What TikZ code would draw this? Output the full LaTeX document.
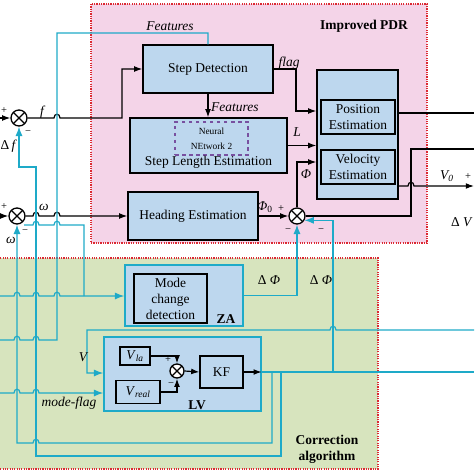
\documentclass[tikz,border=0pt]{standalone}
\usepackage{fontspec}
\setmainfont{Liberation Serif}
\usetikzlibrary{arrows.meta}

\definecolor{pdrpink}{RGB}{244,212,232}
\definecolor{corrgreen}{RGB}{215,228,190}
\definecolor{boxblue}{RGB}{189,215,238}
\definecolor{linecyan}{RGB}{30,170,200}
\definecolor{borderred}{RGB}{220,40,50}
\definecolor{nnpurple}{RGB}{120,80,160}

% small hop of a horizontal line over a vertical one
\newcommand{\hop}[2]{-- (#1-3,#2) .. controls (#1-3,#2-5) and (#1+3,#2-5) .. (#1+3,#2)}

\begin{document}
\begin{tikzpicture}[x=0.03cm, y=-0.03cm,
  font=\fontsize{11.5}{13.6}\selectfont,
  box/.style={draw, line width=1.1pt, fill=boxblue, inner sep=0pt, align=center},
  cybox/.style={draw=linecyan, line width=1.2pt, fill=boxblue, inner sep=0pt},
  nnbox/.style={draw=nnpurple, dashed, line width=1pt, inner sep=0pt, align=center,
    minimum width=2.19cm, minimum height=0.99cm, font=\fontsize{8}{12.5}\selectfont},
  sumnode/.style={circle, draw, line width=1.1pt, fill=white, minimum size=0.48cm, inner sep=0pt,
    path picture={\draw[line width=1.1pt] (path picture bounding box.north west) -- (path picture bounding box.south east)
      (path picture bounding box.north east) -- (path picture bounding box.south west);}},
  blk/.style={line width=1pt},
  blkarrow/.style={blk, -{Latex[length=7pt,width=5pt]}},
  cyl/.style={color=linecyan, line width=1pt},
  cyarrow/.style={cyl, -{Latex[length=8pt,width=6pt]}},
  cyback/.style={cyl, {Latex[length=8pt,width=6pt]}-},
  lbl/.style={inner sep=0pt, font=\fontsize{11.5}{13.6}\selectfont\itshape},
  upr/.style={inner sep=0pt},
  sgn/.style={inner sep=0pt, font=\fontsize{9}{10}\selectfont},
  bold/.style={inner sep=0pt, align=center, font=\fontsize{11.5}{13.6}\selectfont\bfseries}]

  \useasboundingbox (0,0) rectangle (474,474);

  % Background regions
  \fill[corrgreen] (-2,258) rectangle (378,469);
  \draw[borderred, densely dotted, line width=1pt] (-2,258) rectangle (378,469);
  \fill[pdrpink] (91,4) rectangle (427,243);
  \draw[borderred, densely dotted, line width=1pt] (91,4) rectangle (427,243);

  % Improved PDR blocks
  \node[box, minimum width=3.9cm, minimum height=1.44cm] (sd) at (208,69) {Step Detection};
  \node[box, minimum width=4.71cm, minimum height=1.65cm] (sl) at (208.5,145.5) {};
  \node[nnbox] (nn) at (211.5,138.5) {Neural\\NEtwork 2};
  \node[upr] (sltxt) at (208.5,162) {Step Length Estimation};
  \node[box, minimum width=3.9cm, minimum height=1.44cm] (he) at (193,216) {Heading Estimation};
  \node[box, minimum width=2.43cm, minimum height=3.87cm] (big) at (357.5,134.5) {};
  \node[box, minimum width=2.22cm, minimum height=1.02cm] (pos) at (358,117) {Position\\Estimation};
  \node[box, minimum width=2.22cm, minimum height=1.02cm] (vel) at (358,167) {Velocity\\Estimation};

  % Correction blocks
  \node[cybox, minimum width=3.54cm, minimum height=1.83cm] (za) at (184,295.5) {};
  \node[box, minimum width=2.19cm, minimum height=1.47cm] (mcd) at (170.5,298.5) {Mode\\change\\detection};
  \node[cybox, minimum width=4.71cm, minimum height=2.22cm] (lv) at (182.5,374) {};
  \node[box, minimum width=0.9cm, minimum height=0.54cm] (vla) at (135,356) {\textit{V}\textsubscript{\textit{la}}};
  \node[box, minimum width=1.32cm, minimum height=0.69cm] (vreal) at (138,392) {\textit{V}\textsubscript{\textit{real}}};
  \node[box, minimum width=1.29cm, minimum height=0.96cm] (kf) at (221.5,372) {KF};

  % Summing points
  \node[sumnode] (fsum) at (19,118) {};
  \node[sumnode] (wsum) at (17,216) {};
  \node[sumnode] (hsum) at (297,216) {};
  \node[sumnode, minimum size=0.42cm] (lsum) at (177,371) {};

  % Free ends at the picture border
  \coordinate (fin) at (0,118);
  \coordinate (win) at (0,216);
  \coordinate (posout) at (474,113);
  \coordinate (velout) at (474,186);
  \coordinate (hout) at (474,149);
  \coordinate (kfout) at (474,372);
  \coordinate (vin) at (474,330);
  \coordinate (zain) at (0,296);
  \coordinate (featin) at (0,340);
  \coordinate (modein) at (0,393);
  \coordinate (wtap) at (24,225);

  % Black signal lines
  \draw[blkarrow] (fin) -- (fsum.west);
  \draw[blkarrow] (win) -- (wsum.west);
  \draw[blkarrow] (fsum.east) \hop{57}{118} -- (122,118) |- (sd.west);
  \draw[blkarrow] (wsum.east) \hop{36}{216} \hop{57}{216} -- (he.west);
  \draw[blkarrow] (sd.south) -- (sd.south |- sl.north);
  \draw[blkarrow] (sd.east) -| (296,111) -- (big.west |- 0,111);
  \draw[blkarrow] (sl.east) -- (sl.east -| big.west);
  \draw[blkarrow] (he.east) -- (hsum.west);
  \draw[blkarrow] (hsum.north) |- (big.west |- 0,162);
  \draw[blk] (hsum.east) -| (411,149) -- (hout);
  \draw[blk] (big.east |- 0,113) -- (posout);
  \draw[blkarrow] (big.east |- 0,186) \hop{411}{186} -- (velout);
  \draw[blkarrow] (vla.east) -| (lsum.north);
  \draw[blkarrow] (vreal.east) -| (lsum.south);
  \draw[blkarrow] (lsum.east) -- (kf.west);
  \draw[blkarrow] (kf.east) -- (kf.east -| lv.east);

  % Cyan correction lines
  \draw[cyl] (featin) \hop{17}{340} \hop{36}{340} -- (57,340) -- (57,33) -| (sd.north);
  \draw[cyback] (fsum.south) |- (36,167) -- (36,456) -- (281,456) -- (281,372);
  \draw[cyback] (wsum.south) -- (17,443) \hop{36}{443} -- (272,443) -- (272,372);
  \draw[cyl] (kf.east -| lv.east) -- (kfout);
  \draw[cyarrow] (333,372) |- (hsum.-30);
  \draw[cyarrow] (za.east) -| (hsum.south);
  \draw[cyback] (lv.west |- 0,373) -| (87,330) \hop{333}{330} -- (vin);
  \draw[cyarrow] (modein) \hop{17}{393} \hop{36}{393} -- (lv.west |- 0,393);
  \draw[cyarrow] (zain) \hop{17}{296} \hop{36}{296} \hop{57}{296} -- (za.west |- 0,296);
  \draw[cyl] (wtap) \hop{36}{225} \hop{57}{225} -- (84,225) -- (84,296);

  % Labels
  \node[lbl] (featlbl) at (170,26) {Features};
  \node[lbl, anchor=west] (featlbl2) at (211,107) {Features};
  \node[lbl] (flaglbl) at (289,63) {flag};
  \node[lbl] (llbl) at (297,132) {L};
  \node[lbl] (philbl) at (306,174) {Φ};
  \node[lbl] (phizero) at (265,207) {Φ\textsubscript{\upshape 0}};
  \node[sgn] (hplus) at (281,209) {+};
  \node[sgn] (hminusa) at (288,231) {−};
  \node[sgn] (hminusb) at (321,231) {−};
  \node[upr] (dphia) at (269,280) {Δ \textit{Φ}};
  \node[upr] (dphib) at (321,280) {Δ \textit{Φ}};
  \node[lbl] (flbl) at (42,112) {f};
  \node[sgn] (fplus) at (4,111) {+};
  \node[sgn] (fminus) at (28,133) {−};
  \node[lbl, anchor=west] (dflbl) at (0.5,146) {{\upshape Δ}\,f};
  \node[lbl] (wlbl) at (44,207) {ω};
  \node[sgn] (wplus) at (4,207) {+};
  \node[sgn] (wminus) at (25,232) {−};
  \node[lbl] (wlbl2) at (11,240) {ω};
  \node[lbl] (vlbl) at (83,357) {V};
  \node[lbl] (modelbl) at (69,403) {mode-flag};
  \node[sgn] (lplus) at (168,360) {+};
  \node[sgn] (lminus) at (171,385) {−};
  \node[bold] (zalbl) at (226,319) {ZA};
  \node[bold] (lvlbl) at (197,405) {LV};
  \node[bold] (pdrlbl) at (364,26) {Improved PDR};
  \node[bold] (corrlbl) at (327,449) {Correction\\algorithm};
  \node[lbl] (vzero) at (447,176) {V\textsubscript{0}};
  \node[sgn] (vplus) at (468,177) {+};
  \node[upr, anchor=east] (dvlbl) at (473,222) {Δ \textit{V}};
\end{tikzpicture}
\end{document}
